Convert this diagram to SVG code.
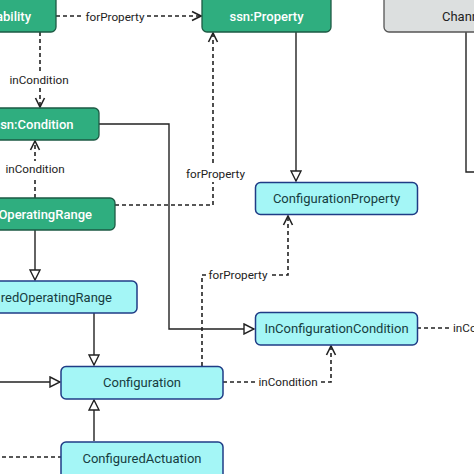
<svg xmlns="http://www.w3.org/2000/svg" width="474" height="474" viewBox="0 0 474 474">
<style>
.g rect{fill:#2fae7f;stroke:#1d5a44;stroke-width:1.3}
.g text{fill:#fff;font:500 13px Roboto,"Liberation Sans",sans-serif;text-anchor:middle;dominant-baseline:central}
.c rect{fill:#a4f6f6;stroke:#1f3c86;stroke-width:1.5}
.c text{fill:#173d3f;font:13px Roboto,"Liberation Sans",sans-serif;text-anchor:middle;dominant-baseline:central}
.gr rect{fill:#dcdfdf;stroke:#555;stroke-width:1.3}
.gr text{fill:#222;font:13px Roboto,"Liberation Sans",sans-serif;dominant-baseline:central}
.s{fill:none;stroke:#222;stroke-width:1.4}
.d{fill:none;stroke:#222;stroke-width:1.6;stroke-dasharray:4 3}
.lbl{fill:#222;font:11.7px Roboto,"Liberation Sans",sans-serif;text-anchor:middle;dominant-baseline:central}
.bg{fill:#fff}
</style>
<defs>
<marker id="tri" viewBox="0 0 12 12" refX="11" refY="6" markerWidth="12" markerHeight="12" markerUnits="userSpaceOnUse" orient="auto">
<path d="M1,1 L11,6 L1,11 Z" fill="#fff" stroke="#222" stroke-width="1.4"/>
</marker>
<marker id="chev" viewBox="0 0 12 12" refX="11" refY="6" markerWidth="12" markerHeight="12" markerUnits="userSpaceOnUse" orient="auto">
<path d="M2,1.5 L11,6 L2,10.5" fill="none" stroke="#222" stroke-width="1.6"/>
</marker>
</defs>
<rect width="474" height="474" fill="#fff"/>
<g id="connectors">
<path class="d" d="M56,16 H201" marker-end="url(#chev)"/>
<path class="d" d="M40,32 V107" marker-end="url(#chev)"/>
<path class="d" d="M35,198 V141" marker-end="url(#chev)"/>
<path class="s" d="M35,230 V280" marker-end="url(#tri)"/>
<path class="d" d="M115,205 H213 V33" marker-end="url(#chev)"/>
<path class="s" d="M296,32 V181" marker-end="url(#tri)"/>
<path class="s" d="M466,32 V172 H480"/>
<path class="s" d="M99,124 H169 V329 H254" marker-end="url(#tri)"/>
<path class="d" d="M202,366 V275 H288 V216" marker-end="url(#chev)"/>
<path class="d" d="M417,328 H480"/>
<path class="d" d="M223,382 H331 V346" marker-end="url(#chev)"/>
<path class="s" d="M94,313 V365" marker-end="url(#tri)"/>
<path class="s" d="M-5,382 H60" marker-end="url(#tri)"/>
<path class="s" d="M94,441 V400" marker-end="url(#tri)"/>
<path class="d" d="M-5,457 H61"/>
<rect class="bg" x="84" y="8" width="62" height="16"/>
<text class="lbl" x="115" y="16.5">forProperty</text>
<rect class="bg" x="9" y="72" width="61" height="16"/>
<text class="lbl" x="39" y="80">inCondition</text>
<rect class="bg" x="4" y="161" width="61" height="16"/>
<text class="lbl" x="35" y="169">inCondition</text>
<rect class="bg" x="185" y="166" width="61" height="16"/>
<text class="lbl" x="215.5" y="174">forProperty</text>
<rect class="bg" x="207" y="267" width="62" height="16"/>
<text class="lbl" x="238" y="274.5">forProperty</text>
<rect class="bg" x="256" y="374" width="63" height="16"/>
<text class="lbl" x="288" y="382">inCondition</text>
<rect class="bg" x="451" y="320" width="30" height="16"/>
<text class="lbl" x="453" y="328" style="text-anchor:start">inCondition</text>
</g>
<g id="capability" class="g">
<rect x="-40" y="-6" width="96" height="38" rx="5"/>
<text x="31" y="16" style="text-anchor:end">ability</text>
</g>
<g id="property" class="g">
<rect x="202" y="-6" width="129" height="38" rx="5"/>
<text x="266.5" y="16">ssn:Property</text>
</g>
<g id="channel" class="gr">
<rect x="384" y="-6" width="110" height="38" rx="5"/>
<text x="442" y="16">Chann</text>
</g>
<g id="condition" class="g">
<rect x="-32" y="108" width="131" height="32" rx="5"/>
<text x="33.5" y="124">ssn:Condition</text>
</g>
<g id="operatingRange" class="g">
<rect x="-40" y="198" width="155" height="32" rx="5"/>
<text x="92" y="214" style="text-anchor:end">OperatingRange</text>
</g>
<g id="configProperty" class="c">
<rect x="255.5" y="182.5" width="162" height="32" rx="5"/>
<text x="336.5" y="198.5">ConfigurationProperty</text>
</g>
<g id="configuredOperatingRange" class="c">
<rect x="-40" y="281" width="177" height="32" rx="5"/>
<text x="112" y="297" style="text-anchor:end">redOperatingRange</text>
</g>
<g id="inConfigCondition" class="c">
<rect x="255.5" y="312.5" width="162" height="32.5" rx="5"/>
<text x="336.5" y="328.5">InConfigurationCondition</text>
</g>
<g id="configuration" class="c">
<rect x="61" y="366.5" width="162" height="32.5" rx="5"/>
<text x="142" y="382.5">Configuration</text>
</g>
<g id="configuredActuation" class="c">
<rect x="61" y="442" width="162" height="40" rx="5"/>
<text x="142" y="458">ConfiguredActuation</text>
</g>
</svg>
